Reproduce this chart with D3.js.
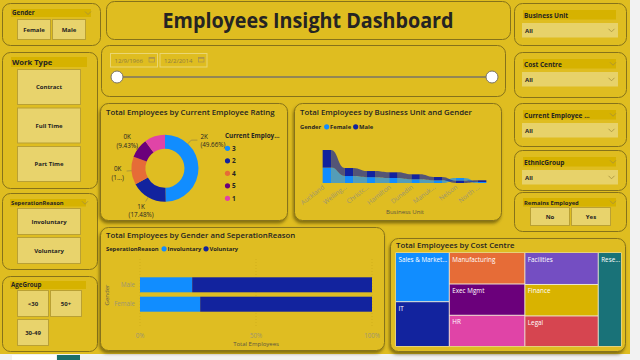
<!DOCTYPE html>
<html><head><meta charset="utf-8">
<script src="https://cdn.jsdelivr.net/npm/d3@7"></script>
<style>
html,body{margin:0;padding:0;background:#f2f2f2;overflow:hidden}
svg{display:block;font-family:"Open Sans","Noto Sans",sans-serif}
</style></head><body>
<svg id="c" width="640" height="360"></svg>
<script>
// ---------- data ----------
const dashboardTitle = "Employees Insight Dashboard";
const genderOptions = ["Female","Male"];
const workTypes = ["Contract","Full Time","Part Time"];
const separationReasons = ["Involuntary","Voluntary"];
const ageGroups = ["<30","50+","30-49"];
const remainsEmployed = ["No","Yes"];
const dateRange = ["12/9/1966","12/2/2014"];
const dropdownSlicers = ["Business Unit","Cost Centre","Current Employee Rating","EthnicGroup"];

const ratingCategories = ["3","2","4","5","1"];
const ratingValues = [1659,584,450,315,333];

const businessUnits = ["Auckland","Wellington","Christchurch","Hamilton","Dunedin","Manukau","Nelson","North Shore"];
const femaleByUnit = [553,251,210,180,133,97,97,36];
const maleByUnit   = [633,287,220,204,179,118,82,61];

const genders = ["Male","Female"];
const involuntaryByGender = [45,55];
const voluntaryByGender = [155,157];
const percentTicks = [0,0.5,1];

const costCentres = ["Sales & Marketing","IT","Manufacturing","Exec Mgmt","HR","Facilities","Finance","Legal","Research"];
const costCentreValues = [416,379,374,372,371,369,363,353,344];

const palette = ["#118DFF","#12239E","#E66C37","#6B007B","#E044A7","#744EC2","#D9B300","#D64550","#197278"];

// ---------- helpers ----------
const C = {bg:"#DFBD20", border:"#86721a", strip:"#D6B200", btn:"#E8D36C", btnStroke:"#B9A034", dd:"#E7D26A", text:"#252423", axis:"#9d9570"};
const svg = d3.select("#c");
const defs = svg.append("defs");
const f = defs.append("filter").attr("id","sh").attr("x","-10%").attr("y","-10%").attr("width","120%").attr("height","125%");
f.append("feDropShadow").attr("dx",-1).attr("dy",2.5).attr("stdDeviation",1.6).attr("flood-color","#3a2e00").attr("flood-opacity",0.55);

function txt(p,x,y,s,o={}){
  return p.append("text").attr("x",x).attr("y",y).text(s)
    .attr("font-size",o.size||6).attr("font-weight",o.weight||400)
    .attr("fill",o.fill||C.text).attr("text-anchor",o.anchor||"start");
}
function fitText(sel,text,maxW){
  sel.text(text);
  if(sel.node().getComputedTextLength()<=maxW) return sel;
  let t=text;
  while(t.length>1){ t=t.slice(0,-1); sel.text(t+"..."); if(sel.node().getComputedTextLength()<=maxW) break; }
  return sel;
}
function panel(x,y,w,h,shadow){
  return svg.append("rect").attr("x",x+0.5).attr("y",y+0.5).attr("width",w).attr("height",h).attr("rx",8)
    .attr("fill",C.bg).attr("stroke",C.border).attr("stroke-width",1).attr("filter",shadow?"url(#sh)":null);
}
function chev(x,y,col){
  svg.append("path").attr("d",`M${x-3},${y-1.5}L${x},${y+1.5}L${x+3},${y-1.5}`)
    .attr("fill","none").attr("stroke",col||"#a48f3c").attr("stroke-width",0.8);
}
function header(x,y,w,h,label,size,chevX,maxW){
  svg.append("rect").attr("x",x).attr("y",y).attr("width",w).attr("height",h).attr("fill",C.strip);
  const t = txt(svg,x+1,y+h-1.8,label,{size,weight:700});
  if(maxW) fitText(t,label,maxW);
  if(chevX) chev(chevX,y+h/2);
}
function button(x,y,w,h,label){
  svg.append("rect").attr("x",x+0.5).attr("y",y+0.5).attr("width",w-1).attr("height",h-1)
    .attr("fill",C.btn).attr("stroke",C.btnStroke).attr("stroke-width",1);
  txt(svg,x+w/2,y+h/2+2,label,{size:6,weight:700,anchor:"middle"});
}
function legend(x,y,title,items){
  const t = txt(svg,x,y,title,{size:5.8,weight:700});
  let cx = x + t.node().getComputedTextLength() + 5.5;
  items.forEach(([name,col])=>{
    svg.append("circle").attr("cx",cx).attr("cy",y-2.2).attr("r",2.6).attr("fill",col);
    const it = txt(svg,cx+3.4,y,name,{size:5.8,weight:700});
    cx += 3.4 + it.node().getComputedTextLength() + 4.6;
  });
}

// ---------- canvas ----------
svg.append("rect").attr("width",630).attr("height",354).attr("fill",C.bg);
svg.append("rect").attr("x",12).attr("y",355).attr("width",44).attr("height",5).attr("fill","#fff");
svg.append("rect").attr("x",57).attr("y",355).attr("width",23).attr("height",5).attr("fill","#1B6E6A");

// ---------- left slicers ----------
panel(2,3,98,42);
header(11,9,80,8,"Gender",6.2,88);
genderOptions.forEach((g,i)=>button(17+i*35,19,34,21,g));

panel(2,52,95,136);
header(11,57,76,10,"Work Type",7.6);
workTypes.forEach((w,i)=>button(17,69+i*38.5,64,36,w));

panel(2,193,95,76);
header(10,199,76,7.5,"SeperationReason",5.8,85);
separationReasons.forEach((s,i)=>button(17,208+i*29,64,27,s));

panel(2,276,95,75);
header(10,281,76,8,"AgeGroup",6.2);
ageGroups.forEach((a,i)=>button(17+(i%2)*33,290+Math.floor(i/2)*29,32,27,a));

// ---------- title ----------
panel(106,1,404,38);
const tt = txt(svg,308,28,dashboardTitle,{size:22,weight:700,anchor:"middle"});
const tw = tt.node().getComputedTextLength();
if(Math.abs(tw-291)>4) tt.attr("textLength",291).attr("lengthAdjust","spacingAndGlyphs");

// ---------- date slider ----------
panel(101,45,404,51);
const parseD = d3.timeParse("%m/%d/%Y");
const sx = d3.scaleTime().domain([parseD(dateRange[0]),parseD(dateRange[1])]).range([117,492]);
dateRange.forEach((d,i)=>{
  const x = 110+i*49.5;
  svg.append("rect").attr("x",x+0.5).attr("y",53.5).attr("width",47).attr("height",13.5).attr("fill","none").attr("stroke","#ead672").attr("stroke-width",1);
  txt(svg,x+4.5,62.5,d,{size:6,fill:"#8c7c46"});
  svg.append("rect").attr("x",x+39).attr("y",57.5).attr("width",5.5).attr("height",4.5).attr("fill","none").attr("stroke","#a89050").attr("stroke-width",0.7);
  svg.append("rect").attr("x",x+39).attr("y",57.5).attr("width",5.5).attr("height",1.2).attr("fill","#a89050");
});
svg.append("line").attr("x1",sx.range()[0]).attr("x2",sx.range()[1]).attr("y1",77).attr("y2",77).attr("stroke","#7a7466").attr("stroke-width",1.5);
sx.domain().forEach(d=>svg.append("circle").attr("cx",sx(d)).attr("cy",77).attr("r",6).attr("fill","#fff").attr("stroke","#7a7466").attr("stroke-width",1));

// ---------- right slicers ----------
const ddTops=[3,52,103,150], ddH=[42,45,43,40];
dropdownSlicers.forEach((s,i)=>{
  const y=ddTops[i];
  panel(514,y,112,ddH[i]);
  header(523,y+7,93,9.5,s,6.5,i>0?613:null,70);
  svg.append("rect").attr("x",522).attr("y",y+20).attr("width",96).attr("height",14.5).attr("fill",C.dd);
  txt(svg,525,y+30,"All",{size:6,weight:700});
  chev(611.5,y+27.3,"#a48f3c");
});
panel(514,192,112,39);
header(523,198,93,8.5,"Remains Employed",5.8,613);
remainsEmployed.forEach((r,i)=>button(530+i*41,207,40,19,r));

// ---------- donut ----------
panel(100,103,187,117,true);
txt(svg,106,115,"Total Employees by Current Employee Rating",{size:7.8,weight:600});
{
  const cx=165, cy=168.3, rO=33.5, rI=19.5;
  const pie = d3.pie().sort(null).value(d=>d)(ratingValues);
  const total = d3.sum(ratingValues);
  const arc = d3.arc().innerRadius(rI).outerRadius(rO);
  const g = svg.append("g").attr("transform",`translate(${cx},${cy})`);
  g.selectAll("path").data(pie).join("path").attr("d",arc).attr("fill",(d,i)=>palette[i]);
  const fmtK = v=>Math.round(v/1000)+"K";
  const fmtP = v=>(v*100).toFixed(2)+"%";
  pie.forEach((d,i)=>{
    const mid=(d.startAngle+d.endAngle)/2;
    const right=Math.sin(mid)>0;
    const a = right?Math.min(mid,0.75):mid;
    const s=Math.sin(a), c=Math.cos(a);
    const lr=rO+14, lx=cx+lr*s, ly=cy-lr*c;
    if(ly<130) return;
    const p1=[cx+rO*s, cy-rO*c], p2=[cx+(rO+5)*s, cy-(rO+5)*c];
    if(right){
      svg.append("path").attr("d",`M${p1}L${p2}L${lx},${p2[1]}`).attr("fill","none").attr("stroke","#8a7c4a").attr("stroke-width",0.6);
      txt(svg,lx+3,ly+5.5,fmtK(d.value),{size:6.3});
      txt(svg,lx+3,ly+13.5,"("+fmtP(d.value/total)+")",{size:6.3});
    } else {
      svg.append("path").attr("d",`M${p1}L${p2}`).attr("fill","none").attr("stroke","#8a7c4a").attr("stroke-width",0.6);
      txt(svg,lx,ly-0.5,fmtK(d.value),{size:6.3,anchor:"middle"});
      const t2=txt(svg,lx,ly+8,"",{size:6.3,anchor:"middle"});
      const pct=fmtP(d.value/total);
      const maxW=2*(lx-110);
      t2.text("("+pct+")");
      if(t2.node().getComputedTextLength()>maxW){
        let k=pct.length;
        while(k>1){k--; t2.text("("+pct.slice(0,k)+"...)"); if(t2.node().getComputedTextLength()<=maxW) break;}
      }
    }
  });
  const lt = txt(svg,225,137.7,"",{size:6.3,weight:700});
  fitText(lt,"Current Employee Rating",55);
  ratingCategories.forEach((r,i)=>{
    const y=148.3+i*12.5;
    svg.append("circle").attr("cx",227.5).attr("cy",y).attr("r",2.6).attr("fill",palette[i]);
    txt(svg,232,y+2.2,r,{size:6.5,weight:700});
  });
}

// ---------- ribbon chart ----------
panel(294,103,207,117,true);
txt(svg,300,115,"Total Employees by Business Unit and Gender",{size:7.8,weight:600});
{
  legend(300,129,"Gender",[["Female",palette[0]],["Male",palette[1]]]);
  const bx = d3.scaleBand().domain(businessUnits).range([316,493]).paddingInner(0.62).paddingOuter(0.3);
  const bw = bx.bandwidth();
  const totals = businessUnits.map((_,i)=>femaleByUnit[i]+maleByUnit[i]);
  const by = d3.scaleLinear().domain([0,d3.max(totals)]).range([183,150]);
  const series=[{name:"Female",values:femaleByUnit,color:palette[0]},{name:"Male",values:maleByUnit,color:palette[1]}];
  const stacks = businessUnits.map((u,i)=>{
    const order = series.map((s,k)=>({k,v:s.values[i]})).sort((a,b)=>a.v-b.v);
    let acc=0; const pos={};
    order.forEach(o=>{pos[o.k]=[acc,acc+o.v]; acc+=o.v;});
    return pos;
  });
  const rg = svg.append("g");
  series.forEach((s,k)=>{
    for(let i=0;i<businessUnits.length-1;i++){
      const x0=bx(businessUnits[i])+bw, x1=bx(businessUnits[i+1]), xm=(x0+x1)/2;
      const t0=by(stacks[i][k][1]), b0=by(stacks[i][k][0]);
      const t1=by(stacks[i+1][k][1]), b1=by(stacks[i+1][k][0]);
      rg.append("path").attr("d",`M${x0},${t0}C${xm},${t0} ${xm},${t1} ${x1},${t1}L${x1},${b1}C${xm},${b1} ${xm},${b0} ${x0},${b0}Z`)
        .attr("fill",s.color).attr("fill-opacity",0.68);
    }
  });
  businessUnits.forEach((u,i)=>{
    series.forEach((s,k)=>{
      const [a,b]=stacks[i][k];
      rg.append("rect").attr("x",bx(u)).attr("width",bw).attr("y",by(b)).attr("height",by(a)-by(b)).attr("fill",s.color);
    });
    const cxx=bx(u)+bw/2;
    const lab=svg.append("text").attr("transform",`translate(${cxx-2},188) rotate(-38)`).attr("text-anchor","end")
      .attr("font-size",6.5).attr("fill",C.axis);
    fitText(lab,u,28.05);
  });
  txt(svg,405,214,"Business Unit",{size:6,anchor:"middle",fill:"#5a5540"});
}

// ---------- 100% stacked bar ----------
panel(100,227,284,123,true);
txt(svg,106,237.7,"Total Employees by Gender and SeperationReason",{size:7.8,weight:600});
{
  legend(106,251,"SeperationReason",[["Involuntary",palette[0]],["Voluntary",palette[1]]]);
  const gx = d3.scaleLinear().domain([0,1]).range([140,372]);
  const gy = d3.scaleBand().domain(genders).range([277.3,311.7]).paddingInner(0.227);
  percentTicks.forEach(t=>{
    svg.append("line").attr("x1",gx(t)).attr("x2",gx(t)).attr("y1",259).attr("y2",328)
      .attr("stroke","#c9a91a").attr("stroke-width",0.6).attr("stroke-dasharray","1,2");
    txt(svg,gx(t),338,d3.format(".0%")(t),{size:6.2,anchor:"middle",fill:C.axis});
  });
  genders.forEach((g,i)=>{
    const tot=involuntaryByGender[i]+voluntaryByGender[i];
    const p=involuntaryByGender[i]/tot;
    svg.append("rect").attr("x",gx(0)).attr("y",gy(g)).attr("width",gx(p)-gx(0)).attr("height",gy.bandwidth()).attr("fill",palette[0]);
    svg.append("rect").attr("x",gx(p)).attr("y",gy(g)).attr("width",gx(1)-gx(p)).attr("height",gy.bandwidth()).attr("fill",palette[1]);
    txt(svg,135,gy(g)+gy.bandwidth()/2+2.2,g,{size:6.2,anchor:"end",fill:C.axis});
  });
  svg.append("text").attr("transform","translate(109,295) rotate(-90)").attr("text-anchor","middle")
    .attr("font-size",6).attr("fill","#6a6448").text("Gender");
  txt(svg,256,346,"Total Employees",{size:6,anchor:"middle",fill:"#5a5540"});
}

// ---------- treemap ----------
panel(390,238,235,113,true);
txt(svg,396,248,"Total Employees by Cost Centre",{size:7.8,weight:600});
{
  const W=225,H=93,X=396,Y=253;
  svg.append("rect").attr("x",X-0.5).attr("y",Y-0.5).attr("width",W+1).attr("height",H+1).attr("fill","#ece6d2");
  const root = d3.hierarchy({children:costCentres.map((n,i)=>({name:n,value:costCentreValues[i],color:palette[i]}))})
    .sum(d=>d.value||0).sort((a,b)=>b.value-a.value);
  d3.treemap().tile(d3.treemapSquarify.ratio(1.66)).size([W,H]).paddingInner(1)(root);
  const g=svg.append("g").attr("transform",`translate(${X},${Y})`);
  root.leaves().forEach(l=>{
    g.append("rect").attr("x",l.x0).attr("y",l.y0).attr("width",l.x1-l.x0).attr("height",l.y1-l.y0).attr("fill",l.data.color);
    const t=g.append("text").attr("x",l.x0+2.5).attr("y",l.y0+8.5).attr("font-size",6.3).attr("fill","#fff");
    fitText(t,l.data.name,l.x1-l.x0-3);
  });
}
</script>
</body></html>
